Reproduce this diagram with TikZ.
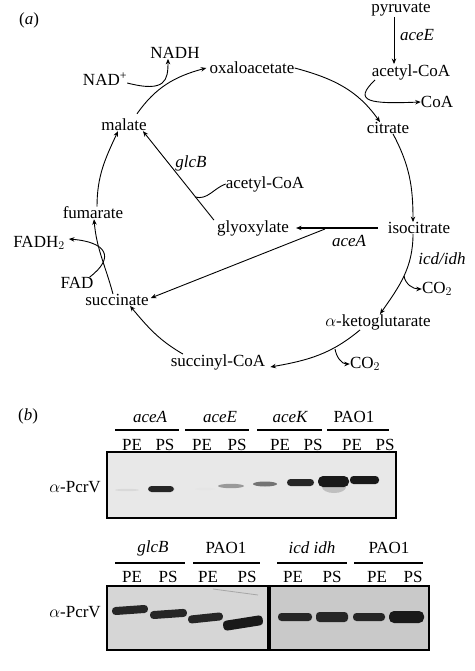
\documentclass[tikz,border=0pt]{standalone}
\usepackage{fontspec}
\setmainfont{Liberation Serif}
\usetikzlibrary{arrows.meta}
\tikzset{%
  tipA/.tip={Stealth[length=5.5pt,width=4.5pt]},
  lbl/.style={inner sep=0pt, font=\fontsize{17}{20}\selectfont},
  gene/.style={inner sep=0pt, font=\fontsize{17}{20}\selectfont\itshape},
  flow/.style={line width=0.9pt, -tipA},
  lane/.style={line width=1.5pt},
  blot/.style={line width=1.6pt},
  band/.style={fill=black!85, rounded corners=3.5pt}
}

\begin{document}
\begin{tikzpicture}[x=1pt,y=-1pt]
\useasboundingbox (0,0) rectangle (474,671);
% panel (a): TCA cycle and glyoxylate shunt
\node[lbl] (pa) at (29,20) {(\textit{a})};
\node[lbl] (pyr) at (401,10) {pyruvate};
\node[lbl] (acoA1) at (411,72) {acetyl-CoA};
\node[lbl] (coa) at (437,102) {CoA};
\node[lbl] (cit) at (388,128) {citrate};
\node[lbl] (iso) at (419,228) {isocitrate};
\node[lbl] (co2a) at (437,289) {CO$_2$};
\node[lbl] (akg) at (378,322) {$\alpha$-ketoglutarate};
\node[lbl] (co2b) at (365,364) {CO$_2$};
\node[lbl] (sca) at (218,362) {succinyl-CoA};
\node[lbl] (suc) at (117,300) {succinate};
\node[lbl] (fad) at (77,283) {FAD};
\node[lbl] (fadh) at (39,243) {FADH$_2$};
\node[lbl] (fum) at (93,213) {fumarate};
\node[lbl] (mal) at (124,125) {malate};
\node[lbl] (nad) at (105,79) {NAD\textsuperscript{+}};
\node[lbl] (nadh) at (175,53) {NADH};
\node[lbl] (oxa) at (252,68) {oxaloacetate};
\node[lbl] (gly) at (253,228) {glyoxylate};
\node[lbl] (acoA2) at (265,184) {acetyl-CoA};
\node[gene] (aceE) at (417,35) {aceE};
\node[gene] (aceA) at (349,241) {aceA};
\node[gene] (glcB) at (191,163) {glcB};
\node[gene] (icd) at (442,259) {icd/idh};
\coordinate (b1) at (404,276);
\coordinate (b2) at (335,349);
\coordinate (b3) at (195,197);
\coordinate (b4) at (325,229);
% cycle
\draw[flow] ([xshift=-7pt]pyr.south) -- ([xshift=-17pt]acoA1.north);
\draw[flow] (oxa.east) to[out=-15,in=125] ([xshift=-8pt]cit.north);
\draw[flow] ([xshift=-36pt]acoA1.south) .. controls (352,102) and (370,104) .. (coa.west);
\draw[flow] ([xshift=5pt]cit.south) to[out=-62,in=90] ([xshift=-6pt]iso.north);
\draw[flow] ([xshift=-6pt]iso.south) to[out=-90,in=55] ([xshift=2pt]akg.north);
\draw[flow] (b1) to[out=-80,in=180] (co2a.west);
\draw[flow] ([xshift=-18pt]akg.south) to[out=-140,in=10] ([xshift=5pt,yshift=-5pt]sca.east);
\draw[flow] (b2) to[out=-80,in=180] (co2b.west);
\draw[flow] ([xshift=-35pt]sca.north) to[out=150,in=-50] ([xshift=13pt]suc.south);
\draw[flow] ([xshift=-4pt]suc.north) to[out=105,in=-85] ([xshift=1pt]fum.south);
\draw[flow] ([xshift=-4pt]fad.north east) .. controls (116,257) and (106,242) .. ([xshift=4pt,yshift=4pt]fadh.east);
\draw[flow] ([xshift=4pt]fum.north) to[out=90,in=-115] ([xshift=-6pt]mal.south);
\draw[flow] ([xshift=13pt,yshift=5pt]mal.north) to[out=55,in=-165] ([xshift=-3pt]oxa.west);
\draw[flow] ([yshift=-4pt]nad.east) .. controls (166,93) and (168,80) .. ([xshift=-7pt]nadh.south);
% glyoxylate shunt
\draw[flow, line width=1.4pt] ([xshift=-10pt]iso.west) -- ([xshift=7pt]gly.east);
\draw[flow] (b4) -- ([xshift=2pt,yshift=2pt]suc.east);
\draw[flow] ([xshift=-3pt]gly.north west) -- ([xshift=19pt]mal.south);
\draw[line width=0.9pt] (acoA2.west) to[out=-160,in=-15] (b3);

% panel (b): western blots
\node[lbl] (pb) at (28,416) {(\textit{b})};
\node[gene] (hA) at (150,417) {aceA};
\node[gene] (hE) at (220,417) {aceE};
\node[gene] (hK) at (290,417) {aceK};
\node[lbl] (hP1) at (354,417) {PAO1};
\draw[lane] (115,430) -- (179,430);
\draw[lane] (185,430) -- (249,430);
\draw[lane] (257,430) -- (322,430);
\draw[lane] (327,430) -- (389,430);
\node[lbl] at (132,445) {PE};
\node[lbl] at (165,445) {PS};
\node[lbl] at (202,445) {PE};
\node[lbl] at (237,445) {PS};
\node[lbl] at (280,445) {PE};
\node[lbl] at (313,445) {PS};
\node[lbl] at (352,445) {PE};
\node[lbl] at (385,445) {PS};
\node[lbl] (ab1) at (75,487) {$\alpha$-PcrV};
\draw[blot, fill=black!9] (107,452) rectangle (396,518);
\fill[black!15] (127,490) ellipse (12 and 1.2);
\fill[band] (148,486) rectangle (174,492);
\fill[black!10] (205,489) ellipse (10 and 1.2);
\fill[black!40] (231,486) ellipse (13 and 2.2);
\fill[black!55] (265,484) ellipse (12 and 2.5);
\fill[band] (287,479) rectangle (314,486);
\fill[black!25] (334,487) ellipse (12 and 6);
\fill[band, fill=black!90, rounded corners=5pt] (318,476) rectangle (349,487);
\fill[band, fill=black!90] (350,476) rectangle (379,484);

\node[gene] (hG) at (153,548) {glcB};
\node[lbl] (hP2) at (226,548) {PAO1};
\node[gene] (hI) at (312,548) {icd idh};
\node[lbl] (hP3) at (389,548) {PAO1};
\draw[lane] (115,563) -- (185,563);
\draw[lane] (193,563) -- (260,563);
\draw[lane] (277,563) -- (347,563);
\draw[lane] (354,563) -- (423,563);
\node[lbl] at (132,577) {PE};
\node[lbl] at (168,577) {PS};
\node[lbl] at (208,577) {PE};
\node[lbl] at (247,577) {PS};
\node[lbl] at (293,577) {PE};
\node[lbl] at (332,577) {PS};
\node[lbl] at (377,577) {PE};
\node[lbl] at (413,577) {PS};
\node[lbl] (ab2) at (75,612) {$\alpha$-PcrV};
\draw[blot, fill=black!16] (107,586) rectangle (268,650);
\draw[blot, fill=black!21] (270,586) rectangle (429,650);
\draw[black!35, line width=0.8pt] (213,589) -- (258,595);
\fill[band, rotate around={4:(130,610)}] (112,606) rectangle (148,614);
\fill[band, rotate around={4:(168,614)}] (150,610) rectangle (187,618);
\fill[band, rotate around={6:(205,618)}] (188,614) rectangle (223,622);
\fill[band, fill=black!90, rotate around={9:(243,623)}] (223,618) rectangle (263,628);
\fill[band] (278,613) rectangle (312,621);
\fill[band] (316,612) rectangle (348,622);
\fill[band] (353,613) rectangle (385,621);
\fill[band, fill=black!90, rounded corners=5pt] (389,611) rectangle (424,623);
\end{tikzpicture}
\end{document}
